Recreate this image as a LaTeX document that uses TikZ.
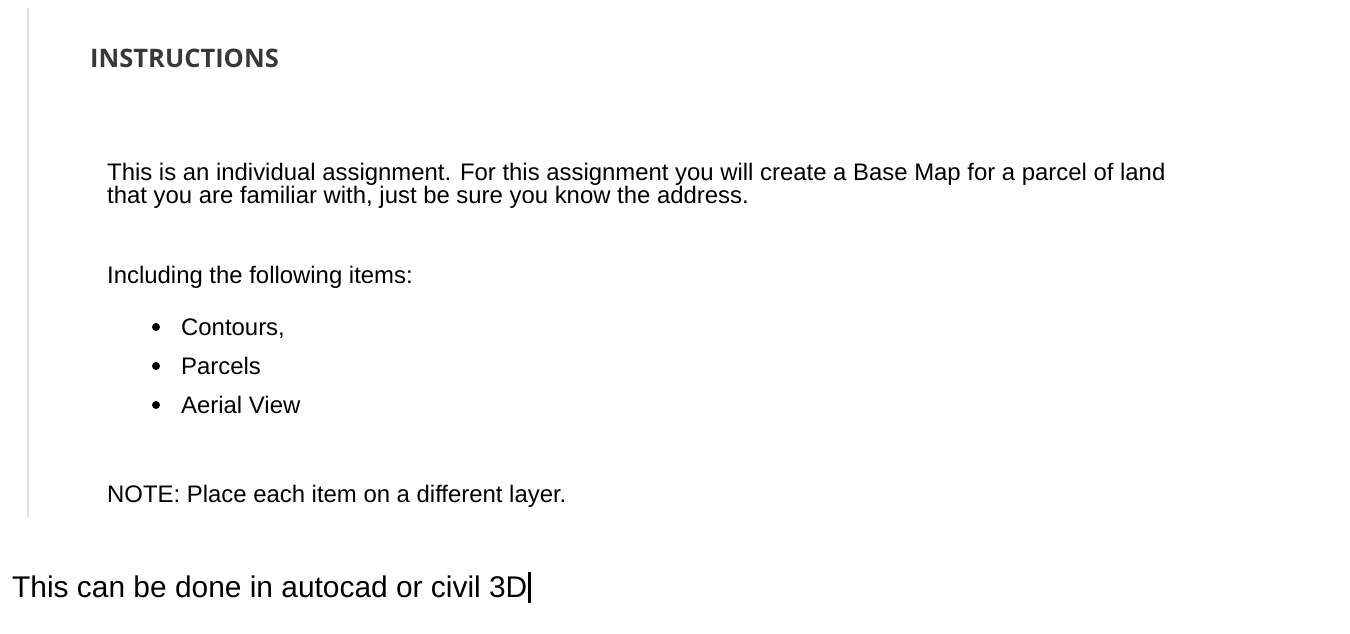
\documentclass[tikz,border=0pt]{standalone}
\usepackage{fontspec}
\setmainfont{Liberation Sans}
\newfontfamily\titlefont{Open Sans}
\begin{document}
\begin{tikzpicture}[x=1pt,y=-1pt,
  body/.style={anchor=base west,inner sep=0pt,font=\fontsize{23.9}{28}\selectfont,text=black},
  bul/.style={circle,fill=black,inner sep=0pt,minimum size=8pt}]
\useasboundingbox (0,0) rectangle (1350,634);
\draw[line width=2pt,black!12] (28,8) -- (28,517);
\node[anchor=base west,inner sep=0pt,font=\titlefont\bfseries\fontsize{25.5}{28}\selectfont,text=black!78] (t) at (90,68) {INSTRUCTIONS};
\node[body] (p1) at (107,180) {This is an individual assignment. For this assignment you will create a Base Map for a parcel of land};
\node[body] (p2) at (107,203) {that you are familiar with, just be sure you know the address.};
\node[body] (p3) at (107,283) {Including the following items:};
\node[bul] (b1) at (156,327) {};
\node[body] (i1) at (181,335) {Contours,};
\node[bul] (b2) at (156,366) {};
\node[body] (i2) at (181,374) {Parcels};
\node[bul] (b3) at (156,405) {};
\node[body] (i3) at (181,413) {Aerial View};
\node[body] (n) at (107,502) {NOTE: Place each item on a different layer.};
\node[anchor=base west,inner sep=0pt,font=\fontsize{29.9}{34}\selectfont] (bt) at (12,597) {This can be done in autocad or civil 3D};
\draw[line width=2.5pt] ([xshift=2pt]bt.east |- 0,572) -- ([xshift=2pt]bt.east |- 0,603);
\end{tikzpicture}
\end{document}
